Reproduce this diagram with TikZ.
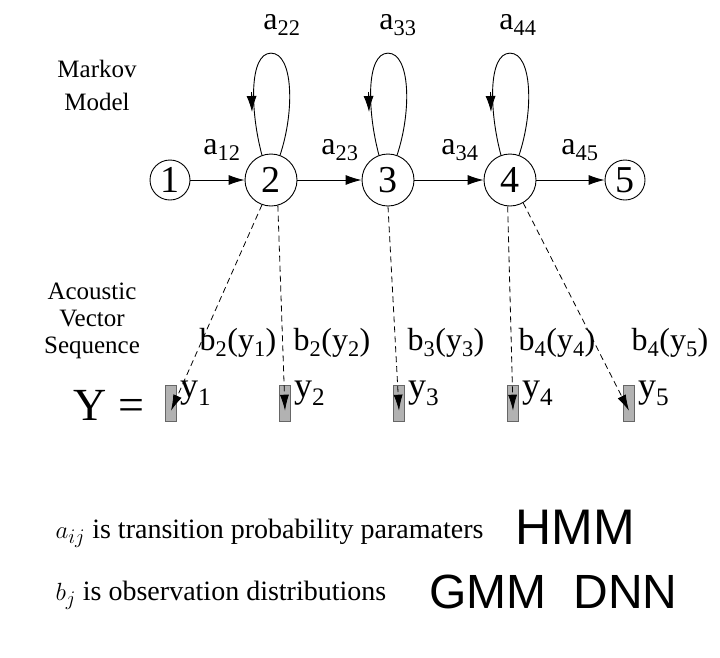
\documentclass[tikz,border=0pt]{standalone}
\usepackage{fontspec}
\setmainfont{Liberation Serif}
\newfontfamily\sansf{Liberation Sans}
\usetikzlibrary{arrows.meta}
\begin{document}
\begin{tikzpicture}[x=1pt,y=-1pt,
  st/.style={circle,draw,line width=0.9pt,inner sep=0pt,font=\fontsize{38}{38}\selectfont},
  big/.style={st,minimum size=52pt},
  sm/.style={st,minimum size=40pt},
  tr/.style={-{Latex[length=16pt,width=10pt]},line width=0.9pt},
  ob/.style={-{Latex[length=16pt,width=9pt]},dashed,line width=0.8pt,dash pattern=on 6pt off 4pt},
  lab/.style={font=\fontsize{32}{32}\selectfont,inner sep=1pt},
  txt/.style={font=\fontsize{25}{27}\selectfont,align=center},
  vec/.style={draw=gray!80!black,fill=gray!60,minimum width=11pt,minimum height=36pt,inner sep=0pt,line width=0.6pt},
  ylab/.style={font=\fontsize{36}{36}\selectfont,anchor=west,inner sep=0pt}]
\useasboundingbox (0,0) rectangle (720,657);
\node[sm] (n1) at (170,180) {1};
\node[big] (n2) at (271,180) {2};
\node[big] (n3) at (388,180) {3};
\node[big] (n4) at (510,180) {4};
\node[sm] (n5) at (625,180) {5};
\draw[tr] (n1) -- (n2);
\draw[tr] (n2) -- (n3);
\draw[tr] (n3) -- (n4);
\draw[tr] (n4) -- (n5);
\foreach \n in {n2,n3,n4}{
  \draw[line width=0.9pt] (\n.70) .. controls +(15,-45) and +(22,0) .. ++(-9,-102) coordinate (top\n)
     .. controls +(-22,0) and +(-12,-45) .. (\n.110);
  \draw[-{Latex[length=16pt,width=10pt]},line width=0.9pt] ([shift={(-19.5,-88)}]\n.center) coordinate (s\n) -- ++(0.5,20);
}
\node[lab] (a12) at (222,150) {a\textsubscript{12}};
\node[lab] (a23) at (340,150) {a\textsubscript{23}};
\node[lab] (a34) at (460,150) {a\textsubscript{34}};
\node[lab] (a45) at (580,150) {a\textsubscript{45}};
\node[lab] (a22) at (282,25) {a\textsubscript{22}};
\node[lab] (a33) at (398,25) {a\textsubscript{33}};
\node[lab] (a44) at (518,25) {a\textsubscript{44}};
\node[txt] (mm) at (97,85) {Markov\\[6pt]Model};
\node[txt] (avs) at (92,321) {Acoustic\\Vector\\Sequence};
\node[vec] (v1) at (171,403) {};
\node[vec] (v2) at (285,403) {};
\node[vec] (v3) at (399,403) {};
\node[vec] (v4) at (513,403) {};
\node[vec] (v5) at (629,403) {};
\foreach \i in {1,...,5}{\node[ylab] (y\i) at ([xshift=3pt,yshift=10pt]v\i.east) {y\textsubscript{\i}};}
\foreach \i in {1,...,5}{\coordinate (e\i) at ([yshift=-26pt]v\i.north);}
\node[font=\fontsize{46}{46}\selectfont,anchor=east] (Y) at (148,405) {Y =};
\draw[ob] (n2.250) -- (e1);
\draw[ob] (n2.285) -- (e2);
\draw[ob] (n3.south) -- (e3);
\draw[ob] (n4.265) -- (e4);
\draw[ob] (n4.300) -- (e5);
\tikzset{bl/.style={font=\fontsize{32}{32}\selectfont,inner sep=0pt}}
\node[bl] (b1) at (238,343) {b\textsubscript{2}(y\textsubscript{1})};
\node[bl] (b2) at (332,343) {b\textsubscript{2}(y\textsubscript{2})};
\node[bl] (b3) at (446,343) {b\textsubscript{3}(y\textsubscript{3})};
\node[bl] (b4) at (557,343) {b\textsubscript{4}(y\textsubscript{4})};
\node[bl] (b5) at (670,343) {b\textsubscript{4}(y\textsubscript{5})};
\node[anchor=west,font=\fontsize{28}{28}\selectfont] (t1) at (52,533) {$a_{ij}$ is transition probability paramaters};
\node[anchor=west,font=\sansf\fontsize{50}{50}\selectfont] (hmm) at (512,527) {HMM};
\node[anchor=west,font=\fontsize{28}{28}\selectfont] (t2) at (52,595) {$b_j$ is observation distributions};
\node[anchor=west,font=\sansf\fontsize{48}{48}\selectfont] (gmm) at (426,592) {GMM\ \ DNN};
\end{tikzpicture}
\end{document}
